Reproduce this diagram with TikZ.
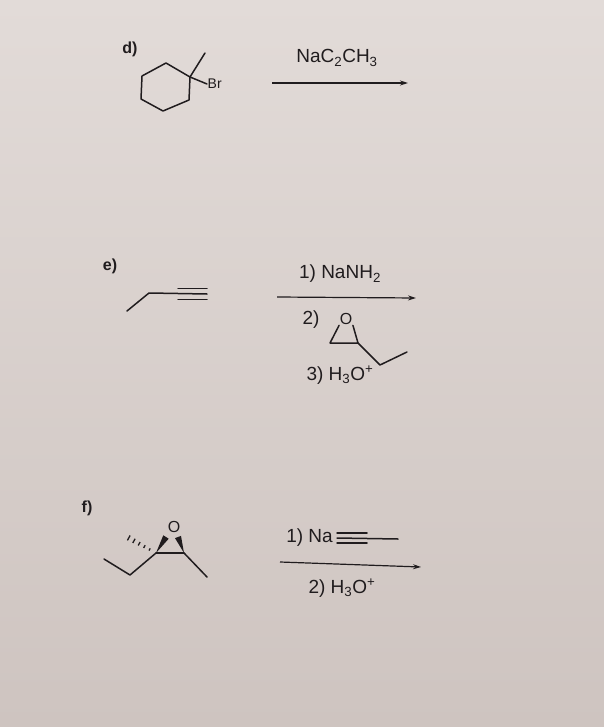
\documentclass[tikz,border=0pt]{standalone}
\usepackage{fontspec}
\setmainfont{Liberation Sans}
\usetikzlibrary{arrows.meta,calc}
\definecolor{paperTop}{RGB}{226,219,216}
\definecolor{paperBot}{RGB}{206,196,192}
\definecolor{ink}{RGB}{32,28,30}
\begin{document}
\begin{tikzpicture}[x=1pt,y=-1pt,
  bond/.style={ink, line width=1.5pt, line join=round, line cap=round},
  rxn/.style={ink, line width=1.2pt, -{Stealth[length=8pt,width=5pt]}},
  reag/.style={ink, font=\fontsize{19}{22}\selectfont, inner sep=0pt},
  lab/.style={ink, font=\fontsize{16}{18}\selectfont\bfseries, inner sep=0pt},
  atom/.style={ink, font=\fontsize{14}{16}\selectfont, inner sep=0.5pt}]
\useasboundingbox (0,0) rectangle (604,727);
\shade[top color=paperTop, bottom color=paperBot] (0,0) rectangle (604,727);

% ---------- d) ----------
\node[lab] (labd) at (130,49) {d)};
\coordinate (r1) at (166,63);
\coordinate (r2) at (190,77);
\coordinate (r3) at (189,100);
\coordinate (r4) at (163,111);
\coordinate (r5) at (141,99);
\coordinate (r6) at (142,76);
\coordinate (me) at (205,53);
\node[atom, anchor=west] (br) at (207,84) {Br};
\draw[bond] (r1) -- (r2) -- (r3) -- (r4) -- (r5) -- (r6) -- cycle;
\draw[bond] (r2) -- (me);
\draw[bond] (r2) -- (br.west);
\coordinate (ad1) at (272,83);
\coordinate (ad2) at (408,83);
\draw[rxn] (ad1) -- (ad2);
\node[reag] (rd) at (337,58) {NaC\textsubscript{2}CH\textsubscript{3}};

% ---------- e) ----------
\node[lab] (labe) at (110,266) {e)};
\coordinate (p1) at (127,311);
\coordinate (p2) at (149,293);
\coordinate (p3) at (178,294);
\coordinate (p4) at (207,294);
\draw[bond] (p1) -- (p2) -- (p4);
\draw[bond] ($(p3)+(0,-5.5)$) -- ($(p4)+(0,-5.5)$);
\draw[bond] ($(p3)+(0,5.5)$) -- ($(p4)+(0,5.5)$);
\coordinate (ae1) at (277,297);
\coordinate (ae2) at (416,298);
\draw[rxn] (ae1) -- (ae2);
\node[reag] (re1) at (340,274) {1) NaNH\textsubscript{2}};
\node[reag] (re2) at (311,320) {2)};
\node[atom, font=\fontsize{16}{18}\selectfont] (eo) at (346,319) {O};
\coordinate (ec1) at (330,343);
\coordinate (ec2) at (358,343);
\coordinate (ec3) at (380,365);
\coordinate (ec4) at (407,352);
\draw[bond] (eo.south west) -- (ec1) -- (ec2) -- (eo.south east);
\draw[bond] (ec2) -- (ec3) -- (ec4);
\node[reag] (re3) at (340,375) {3) H\textsubscript{3}O\textsuperscript{+}};

% ---------- f) ----------
\node[lab] (labf) at (87,508) {f)};
\node[atom, font=\fontsize{16}{18}\selectfont] (fo) at (174,527) {O};
\coordinate (fc1) at (156,553);
\coordinate (fc2) at (184,553);
\coordinate (fw1) at (166,537);
\coordinate (fw2) at (178,537);
\coordinate (fe1) at (130,575);
\coordinate (fe2) at (104,559);
\coordinate (fme) at (207,577);
\coordinate (fh) at (127,537);
\draw[bond] (fc1) -- (fc2);
\fill[ink] (fc1) -- ($(fw1)!3.2pt!90:(fc1)$) -- ($(fw1)!3.2pt!-90:(fc1)$) -- cycle;
\fill[ink] (fc2) -- ($(fw2)!3.2pt!90:(fc2)$) -- ($(fw2)!3.2pt!-90:(fc2)$) -- cycle;
\draw[bond] (fc1) -- (fe1) -- (fe2);
\draw[bond] (fc2) -- (fme);
\foreach \t/\w in {0.22/1.2,0.4/1.6,0.58/2.0,0.76/2.4,0.94/2.8}{
  \coordinate (hm) at ($(fc1)!\t!(fh)$);
  \draw[ink, line width=1.3pt] ($(hm)!\w pt!90:(fh)$) -- ($(hm)!\w pt!-90:(fh)$);
}
\coordinate (af1) at (280,562);
\coordinate (af2) at (421,567);
\draw[rxn] (af1) -- (af2);
\node[reag, anchor=east] (rf1) at (333,538) {1) Na};
\coordinate (ft1) at (337,538);
\coordinate (ft2) at (367,538);
\coordinate (ft3) at (398,539);
\draw[bond] (ft1) -- (ft3);
\draw[bond] ($(ft1)+(0,-5)$) -- ($(ft2)+(0,-5)$);
\draw[bond] ($(ft1)+(0,5)$) -- ($(ft2)+(0,5)$);
\node[reag] (rf2) at (342,588) {2) H\textsubscript{3}O\textsuperscript{+}};
\end{tikzpicture}
\end{document}
